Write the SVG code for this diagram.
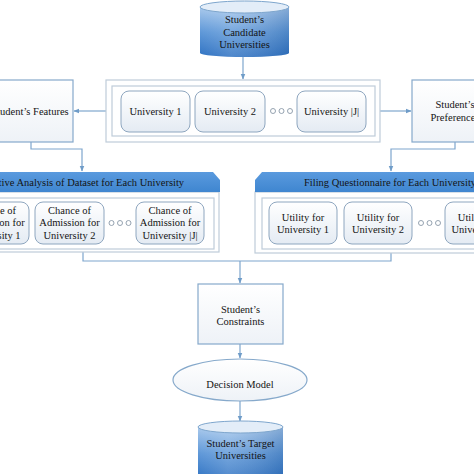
<svg xmlns="http://www.w3.org/2000/svg" width="474" height="474" viewBox="0 0 474 474" font-family="'Liberation Serif', 'Times New Roman', serif">
<defs>
<linearGradient id="cyl" x1="0" y1="0" x2="0" y2="1">
<stop offset="0" stop-color="#a9c9ec"/>
<stop offset="0.5" stop-color="#5f98d8"/>
<stop offset="1" stop-color="#2f72c2"/>
</linearGradient>
<linearGradient id="cylh" x1="0" y1="0" x2="1" y2="0">
<stop offset="0" stop-color="#ffffff" stop-opacity="0"/>
<stop offset="0.35" stop-color="#ffffff" stop-opacity="0.15"/>
<stop offset="1" stop-color="#1a4f90" stop-opacity="0.25"/>
</linearGradient>
<linearGradient id="box" x1="0" y1="0" x2="0" y2="1">
<stop offset="0" stop-color="#ffffff"/>
<stop offset="1" stop-color="#e4ebf3"/>
</linearGradient>
<linearGradient id="sq" x1="0" y1="0" x2="0" y2="1">
<stop offset="0" stop-color="#ffffff"/>
<stop offset="1" stop-color="#eef2f7"/>
</linearGradient>
<linearGradient id="hdr" x1="0" y1="0" x2="0" y2="1">
<stop offset="0" stop-color="#5a9ade"/>
<stop offset="1" stop-color="#3f86d0"/>
</linearGradient>
<marker id="ah" viewBox="0 0 10 10" refX="9" refY="5" markerWidth="5" markerHeight="5" orient="auto">
<path d="M0,1 L10,5 L0,9 z" fill="#6f9cc8"/>
</marker>
</defs>
<style>
text{font-family:"Liberation Serif","Times New Roman",serif;font-size:10.5px;fill:#141414;text-anchor:middle}
.rb{fill:url(#box);stroke:#8ea6bf;stroke-width:1}
.sq{fill:url(#sq);stroke:#86a9cb;stroke-width:1.2}
.frame{fill:#ffffff;stroke:#bfccd9;stroke-width:1.2}
.hdr{fill:url(#hdr);stroke:none}
.dot{fill:none;stroke:#8a98a8;stroke-width:0.9}
.cn{fill:none;stroke:#7ea6cd;stroke-width:1.2}
</style>
<rect width="474" height="474" fill="#ffffff"/>

<g id="connectors">
<path class="cn" d="M243,56 V79" marker-end="url(#ah)"/>
<path class="cn" d="M106,111 H74" marker-end="url(#ah)"/>
<path class="cn" d="M380,111 H411" marker-end="url(#ah)"/>
<path class="cn" d="M31,142 V149 H82 V171" marker-end="url(#ah)"/>
<path class="cn" d="M455,142 V149 H391 V171" marker-end="url(#ah)"/>
<path class="cn" d="M83,252 V261 H391 V253"/>
<path class="cn" d="M240,261 V283" marker-end="url(#ah)"/>
<path class="cn" d="M240,344 V358" marker-end="url(#ah)"/>
<path class="cn" d="M240,401 V421" marker-end="url(#ah)"/>
</g>

<g id="candidate">
<path d="M200,7 V53 A44.5,4 0 0 0 289,53 V7 z" fill="url(#cyl)"/>
<path d="M200,7 V53 A44.5,4 0 0 0 289,53 V7 z" fill="url(#cylh)"/>
<ellipse cx="244.5" cy="7" rx="44.5" ry="6" fill="#e3edf8" stroke="#7ea6cd" stroke-width="1"/>
<text x="244.5" y="23">Student’s</text>
<text x="244.5" y="36">Candidate</text>
<text x="244.5" y="48">Universities</text>
</g>

<g id="universities">
<rect class="frame" x="106" y="80" width="274" height="62"/>
<rect class="frame" x="112" y="86" width="263" height="50"/>
<rect class="rb" x="121" y="91" width="69" height="41" rx="8"/>
<text x="155.5" y="115">University 1</text>
<rect class="rb" x="195" y="91" width="70" height="41" rx="8"/>
<text x="230" y="115">University 2</text>
<circle class="dot" cx="273" cy="111" r="2.5"/>
<circle class="dot" cx="281.5" cy="111" r="2.5"/>
<circle class="dot" cx="290" cy="111" r="2.5"/>
<rect class="rb" x="297" y="91" width="69" height="41" rx="8"/>
<text x="331.5" y="115">University |J|</text>
</g>

<g id="features">
<rect class="sq" x="-14" y="80" width="87" height="62"/>
<text x="30" y="115">Student’s Features</text>
</g>

<g id="preferences">
<rect class="sq" x="412" y="80" width="86" height="62"/>
<text x="455" y="108">Student’s</text>
<text x="455" y="121">Preferences</text>
</g>

<g id="analysis">
<rect class="frame" x="-70" y="192" width="289" height="60"/>
<polygon class="hdr" points="-70,172 213,172 220,180 220,192 -70,192"/>
<text x="75" y="186">Descriptive Analysis of Dataset for Each University</text>
<rect class="frame" x="-65" y="198" width="279" height="51"/>
<rect class="rb" x="-40" y="202" width="69" height="42" rx="8"/>
<text x="-5.5" y="213.5">Chance of</text>
<text x="-5.5" y="226">Admission for</text>
<text x="-5.5" y="238.5">University 1</text>
<rect class="rb" x="35" y="202" width="69" height="42" rx="8"/>
<text x="69.5" y="213.5">Chance of</text>
<text x="69.5" y="226">Admission for</text>
<text x="69.5" y="238.5">University 2</text>
<circle class="dot" cx="111.5" cy="223" r="2.5"/>
<circle class="dot" cx="120" cy="223" r="2.5"/>
<circle class="dot" cx="128.5" cy="223" r="2.5"/>
<rect class="rb" x="136" y="202" width="68" height="42" rx="8"/>
<text x="170" y="213.5">Chance of</text>
<text x="170" y="226">Admission for</text>
<text x="170" y="238.5">University |J|</text>
</g>

<g id="questionnaire">
<rect class="frame" x="255" y="192" width="285" height="61"/>
<polygon class="hdr" points="262,172 540,172 540,192 255,192 255,180"/>
<text x="304" y="186" style="text-anchor:start">Filing Questionnaire for Each University</text>
<rect class="frame" x="262" y="198" width="278" height="51"/>
<rect class="rb" x="269" y="202" width="68" height="42" rx="8"/>
<text x="303" y="221">Utility for</text>
<text x="303" y="232.5">University 1</text>
<rect class="rb" x="344" y="202" width="68" height="42" rx="8"/>
<text x="378" y="221">Utility for</text>
<text x="378" y="232.5">University 2</text>
<circle class="dot" cx="421" cy="223" r="2.5"/>
<circle class="dot" cx="429.5" cy="223" r="2.5"/>
<circle class="dot" cx="438" cy="223" r="2.5"/>
<rect class="rb" x="445" y="202" width="68" height="42" rx="8"/>
<text x="479" y="221">Utility for</text>
<text x="479" y="232.5">University |J|</text>
</g>

<g id="constraints">
<rect class="sq" x="198" y="284" width="85" height="60"/>
<text x="240.5" y="313">Student’s</text>
<text x="240.5" y="325">Constraints</text>
</g>

<g id="decision">
<ellipse cx="240" cy="380" rx="67" ry="21" fill="url(#sq)" stroke="#86a9cb" stroke-width="1.2"/>
<text x="240" y="388">Decision Model</text>
</g>

<g id="target">
<path d="M198,427 V480 H283 V427 z" fill="url(#cyl)"/>
<path d="M198,427 V480 H283 V427 z" fill="url(#cylh)"/>
<ellipse cx="240.5" cy="427" rx="42.5" ry="6" fill="#e3edf8" stroke="#7ea6cd" stroke-width="1"/>
<text x="240.5" y="447">Student’s Target</text>
<text x="240.5" y="459">Universities</text>
</g>
</svg>
